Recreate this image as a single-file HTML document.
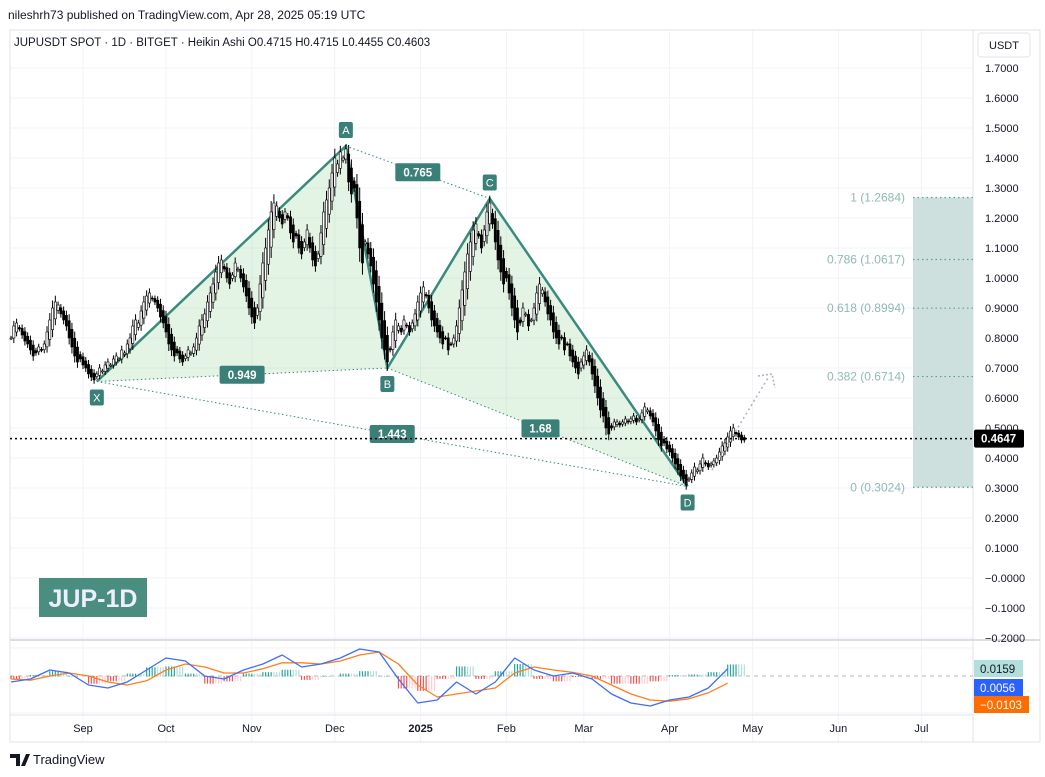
<!DOCTYPE html>
<html><head><meta charset="utf-8">
<style>
body{margin:0;background:#fff;font-family:"Liberation Sans",sans-serif;}
#wrap{position:relative;width:1045px;height:777px;overflow:hidden;background:#fff;}
svg text{font-family:"Liberation Sans",sans-serif;}
</style></head>
<body>
<div id="wrap">
<svg id="chart" width="1045" height="777"></svg>
</div>
<script>
// ---- data ----
const startDay = -26; // days relative to Sep 1, 2024
const closes = [
0.80,0.84,0.85,0.83,0.81,0.79,0.78,
0.76,0.74,0.75,0.77,0.76,0.78,0.82,
0.86,0.90,0.92,0.91,0.88,0.86,0.84,
0.80,0.77,0.74,0.72,0.73,0.71,0.70,
0.68,0.67,0.66,0.68,0.70,0.69,0.71,
0.72,0.71,0.73,0.74,0.73,0.76,0.75,
0.78,0.80,0.84,0.86,0.85,0.89,0.92,
0.94,0.95,0.93,0.92,0.90,0.87,0.85,
0.82,0.78,0.76,0.74,0.75,0.73,0.72,
0.74,0.76,0.75,0.77,0.80,0.84,0.86,
0.88,0.92,0.95,0.98,1.02,1.05,1.06,
1.03,1.00,0.98,1.01,1.05,1.03,1.00,
0.97,0.94,0.90,0.87,0.85,0.90,0.98,
1.05,1.10,1.16,1.22,1.25,1.24,1.20,
1.18,1.22,1.20,1.15,1.12,1.14,1.10,
1.08,1.12,1.16,1.10,1.06,1.04,1.08,
1.15,1.22,1.26,1.30,1.35,1.40,1.38,
1.42,1.40,1.43,1.32,1.28,1.30,1.20,
1.10,1.05,1.12,1.08,1.04,0.98,0.92,
0.86,0.80,0.76,0.72,0.76,0.82,0.86,
0.84,0.82,0.86,0.84,0.82,0.85,0.88,
0.92,0.95,0.97,0.94,0.90,0.86,0.84,
0.82,0.80,0.78,0.80,0.76,0.78,0.80,
0.84,0.90,0.96,1.02,1.08,1.12,1.16,
1.18,1.14,1.10,1.16,1.22,1.25,1.18,
1.12,1.06,1.02,0.98,1.00,0.95,0.90,
0.86,0.82,0.85,0.90,0.88,0.84,0.86,
0.90,0.95,0.98,0.96,0.92,0.88,0.86,
0.82,0.80,0.78,0.80,0.76,0.78,0.74,
0.72,0.70,0.68,0.72,0.74,0.76,0.72,
0.68,0.64,0.60,0.56,0.54,0.50,0.48,
0.50,0.52,0.52,0.51,0.52,0.53,0.52,
0.53,0.54,0.52,0.53,0.55,0.57,0.56,
0.54,0.52,0.49,0.46,0.44,0.45,0.43,
0.42,0.40,0.38,0.36,0.34,0.33,0.31,
0.33,0.35,0.37,0.36,0.38,0.40,0.38,
0.37,0.38,0.39,0.40,0.42,0.44,0.45,
0.47,0.49,0.50,0.48,0.47,0.46,0.46];
const priceTicks = [1.7,1.6,1.5,1.4,1.3,1.2,1.1,1.0,0.9,0.8,0.7,0.6,0.5,0.4,0.3,0.2,0.1,0.0,-0.1,-0.2];
const monthLabels = ["Sep","Oct","Nov","Dec","2025","Feb","Mar","Apr","May","Jun","Jul"];
const monthDays = [0,30,61,91,122,153,181,212,242,273,303];
const patternNames = ["X","A","B","C","D"];
const patternDays = [5,95,110,147,218.5];
const patternPrices = [0.655,1.44,0.70,1.265,0.305];
const ratioLabels = ["0.949","0.765","1.443","1.68"];
const fibLevels = [1,0.786,0.618,0.382,0];
const fibPrices = [1.2684,1.0617,0.8994,0.6714,0.3024];
const lastPrice = 0.4647;
const macdStep = 7;
const macdVals = [-0.01,-0.005,0.01,0.005,-0.015,-0.02,-0.01,0.01,0.03,0.025,0.0,-0.005,0.01,0.02,0.035,0.015,0.02,0.03,0.045,0.04,-0.005,-0.045,-0.04,-0.01,-0.03,-0.01,0.03,0.01,0.0,0.005,-0.005,-0.03,-0.045,-0.05,-0.04,-0.035,-0.02,0.012];
const signalVals = [-0.005,-0.007,0.0,0.005,0.0,-0.01,-0.015,-0.008,0.01,0.02,0.015,0.005,0.005,0.012,0.022,0.022,0.02,0.025,0.035,0.04,0.02,-0.015,-0.035,-0.03,-0.025,-0.02,0.005,0.015,0.01,0.006,0.0,-0.015,-0.03,-0.04,-0.042,-0.038,-0.028,-0.012];

// ---- axes ----
const X0 = 83, PXD = 2.767;
const xd = d => X0 + d * PXD;
const yp = p => 68 + (1.7 - p) * 300;
const ym = v => 676 - v * 600;
const svg = document.getElementById('chart');
const NS = 'http://www.w3.org/2000/svg';
function mk(tag, attrs, parent) {
  const e = document.createElementNS(NS, tag);
  for (const k in attrs) e.setAttribute(k, attrs[k]);
  (parent || svg).appendChild(e);
  return e;
}
function txt(s, attrs, parent) { const t = mk('text', attrs, parent); t.textContent = s; return t; }

// grid
const grid = mk('g', {});


priceTicks.forEach(p => mk('line', {x1:10,x2:973,y1:yp(p),y2:yp(p),stroke:'#f0f3fa','stroke-width':1}, grid));
monthDays.forEach(d => mk('line', {x1:xd(d),x2:xd(d),y1:30,y2:742,stroke:'#f0f3fa','stroke-width':1}, grid));
[648,713].forEach(y => mk('line', {x1:10,x2:973,y1:y,y2:y,stroke:'#f0f3fa'}, grid));
// frames
mk('rect', {x:10,y:30,width:1030,height:712,fill:'none',stroke:'#e0e3eb'});
mk('line', {x1:973,x2:973,y1:30,y2:742,stroke:'#e0e3eb'});
mk('line', {x1:10,x2:1040,y1:640,y2:640,stroke:'#d1d4dc','stroke-width':1.5});
mk('line', {x1:10,x2:973,y1:715,y2:715,stroke:'#e0e3eb'});

// header
const h1 = txt('nileshrh73 published on TradingView.com, Apr 28, 2025 05:19 UTC', {x:8,y:19,'font-size':12,fill:'#131722'});


const h2 = txt('JUPUSDT SPOT · 1D · BITGET · Heikin Ashi  O0.4715  H0.4715  L0.4455  C0.4603', {x:14,y:46,'font-size':11.5,fill:'#131722'});


const ub = mk('rect', {x:978,y:33,width:52,height:24,rx:3,fill:'#fff',stroke:'#e0e3eb'});


txt('USDT', {x:1004,y:49,'font-size':11,fill:'#131722','text-anchor':'middle'});

// price axis labels
priceTicks.forEach(p => {
  let s = p.toFixed(4);
  if (p <= 0) s = '\u2212' + Math.abs(p).toFixed(4);
  const t = txt(s, {x:985,y:yp(p)+4,'font-size':11,fill:'#131722'});
  
  
});
// time labels
monthLabels.forEach((m, i) => {
  const t = txt(m, {x:xd(monthDays[i]),y:732,'font-size':11,fill:'#131722','text-anchor':'middle','font-weight':m==='2025'?'bold':'normal'});
  
  
});

// fib box
const fg = mk('g', {});


mk('rect', {x:913,y:yp(fibPrices[0]),width:60,height:yp(fibPrices[4])-yp(fibPrices[0]),fill:'#cde0dd'}, fg);
fibLevels.forEach((l, i) => {
  mk('line', {x1:913,x2:973,y1:yp(fibPrices[i]),y2:yp(fibPrices[i]),stroke:'#5f9e95','stroke-width':1.2,'stroke-dasharray':'1.5 3'}, fg);
  const t = txt(l + ' (' + fibPrices[i].toFixed(4) + ')', {x:905,y:yp(fibPrices[i])+4,'font-size':12,fill:'#8fbab3','text-anchor':'end'}, fg);
  
  
});

// pattern
const P = patternDays.map((d, i) => [xd(d), yp(patternPrices[i])]);
const pg = mk('g', {});


mk('polygon', {points:[P[0],P[1],P[2]].map(p=>p.join(',')).join(' '),fill:'rgba(120,200,120,0.2)'}, pg);
mk('polygon', {points:[P[2],P[3],P[4]].map(p=>p.join(',')).join(' '),fill:'rgba(120,200,120,0.2)'}, pg);
mk('polyline', {points:P.map(p=>p.join(',')).join(' '),fill:'none',stroke:'#3a8a7e','stroke-width':2.5}, pg);
[[0,2],[1,3],[2,4],[0,4]].forEach(([a,b]) => mk('line', {x1:P[a][0],y1:P[a][1],x2:P[b][0],y2:P[b][1],stroke:'#3a8a7e','stroke-width':1,'stroke-dasharray':'1.5 2.5'}, pg));

// candles
const cg = mk('g', {});


let prevO = closes[0], prevC = closes[0];
closes.forEach((c, i) => {
  const o = (prevO + prevC) / 2;
  const hi = Math.max(o, c) + Math.abs(c - o) * 0.25 + 0.007;
  const lo = Math.min(o, c) - Math.abs(c - o) * 0.25 - 0.007;
  const x = xd(startDay + i);
  mk('line', {x1:x,x2:x,y1:yp(hi),y2:yp(lo),stroke:'#000','stroke-width':1}, cg);
  const top = yp(Math.max(o, c)), bot = yp(Math.min(o, c));
  mk('rect', {x:x-1.1,y:top,width:2.2,height:Math.max(1,bot-top),fill:c>=o?'#fff':'#000',stroke:'#000','stroke-width':0.6}, cg);
  prevO = o; prevC = c;
});

// pattern labels
P.forEach((p, i) => {
  const above = i === 1 || i === 3;
  const cy = above ? p[1] - 16 : p[1] + 16;
  const r = mk('rect', {x:p[0]-7,y:cy-8,width:14,height:16,rx:2,fill:'#3a8078'});
  
  
  txt(patternNames[i], {x:p[0],y:cy+4,'font-size':11,fill:'#fff','text-anchor':'middle'});
});
const ratioPairs = [[0,2],[1,3],[0,4],[2,4]];
const ratioFrac = [0.5,0.5,0.5,0.51];
ratioLabels.forEach((s, i) => {
  const [a,b] = ratioPairs[i];
  const f = ratioFrac[i];
  const cx = P[a][0] + (P[b][0]-P[a][0])*f, cy = P[a][1] + (P[b][1]-P[a][1])*f;
  const w = s.length * 7 + 10;
  const r = mk('rect', {x:cx-w/2,y:cy-9,width:w,height:18,rx:2,fill:'#3a8078'});
  
  
  txt(s, {x:cx,y:cy+4,'font-size':11.5,'font-weight':'bold',fill:'#fff','text-anchor':'middle'});
});

// projection arrow
const ag = mk('g', {});


mk('line', {x1:712,y1:470,x2:768,y2:378,stroke:'#b2b5be','stroke-width':1.6,'stroke-dasharray':'2 3'}, ag);
mk('polyline', {points:'758,376 772,374 775,388',fill:'none',stroke:'#b2b5be','stroke-width':1.6,'stroke-dasharray':'2 2'}, ag);

// last price line
const lp = mk('line', {x1:10,x2:973,y1:yp(lastPrice),y2:yp(lastPrice),stroke:'#000','stroke-width':1.5,'stroke-dasharray':'2 3'});


mk('rect', {x:974,y:yp(lastPrice)-9,width:50,height:18,rx:2,fill:'#000'});
txt(lastPrice.toFixed(4), {x:981,y:yp(lastPrice)+4,'font-size':11.5,'font-weight':'bold',fill:'#fff'});

// JUP badge
const jb = mk('rect', {x:39,y:578,width:108,height:39,fill:'#4a8e80'});


txt('JUP-1D', {x:93,y:607,'font-size':25,'font-weight':'bold',fill:'#eef','text-anchor':'middle'});

// MACD panel
mk('line', {x1:10,x2:973,y1:676,y2:676,stroke:'#b2b5be','stroke-dasharray':'4 4'});
const mg = mk('g', {});


macdVals.forEach((v, i) => {
  const h = v - signalVals[i];
  for (let k = 0; k < macdStep; k++) {
    const x = xd(startDay + i * macdStep + k);
    if (x > 748) break;
    const yy = ym(h * 0.8);
    const col = h >= 0 ? (k < 4 ? '#26a69a' : '#b2dfdb') : (k < 4 ? '#ef5350' : '#ffcdd2');
    mk('rect', {x:x-0.6,y:Math.min(yy,676),width:1.2,height:Math.abs(yy-676)+0.5,fill:col}, mg);
  }
});
function path(arr) {
  return arr.map((v, i) => (i ? 'L' : 'M') + xd(startDay + i * macdStep).toFixed(1) + ',' + ym(v).toFixed(1)).join(' ');
}
mk('path', {d:path(signalVals),fill:'none',stroke:'#ff7f1e','stroke-width':1.3,'stroke-linejoin':'round'}, mg);
mk('path', {d:path(macdVals),fill:'none',stroke:'#3f6ef5','stroke-width':1.3,'stroke-linejoin':'round'}, mg);
[['0.0159','#b2dfdb','#131722',669],['0.0056','#2962ff','#fff',688],['\u22120.0103','#ff6d00','#fff',705]].forEach(([s,bg,fc,y]) => {
  const r = mk('rect', {x:974,y:y-9,width:s.length>6?55:49,height:17,fill:bg});
  
  
  txt(s, {x:980,y:y+4,'font-size':11.5,fill:fc});
});

// footer logo
const fl = txt('TradingView', {x:33,y:764,'font-size':13,fill:'#131722'});


mk('path', {d:'M10,754 h10 v12 h-4 v-8 h-6z M21,766 l5,-12 h4 l-5,12z',fill:'#131722'});
</script>
</body></html>
